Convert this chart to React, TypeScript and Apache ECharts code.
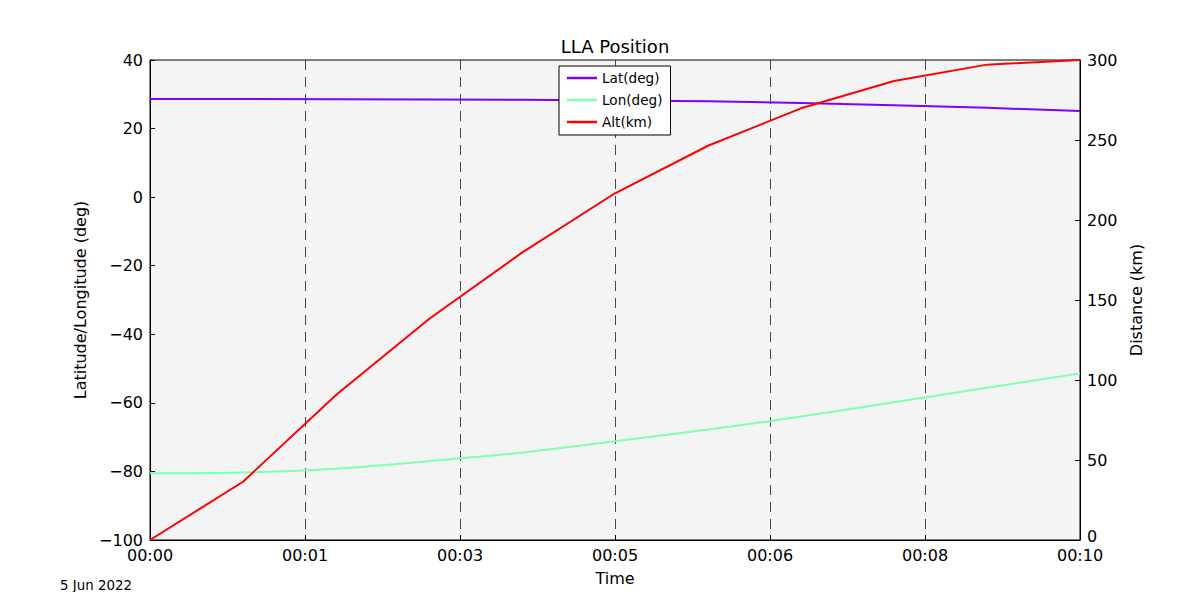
import React, { useEffect, useRef } from "react";
import * as echarts from "echarts";

const times = [0, 60, 120, 180, 240, 300, 360, 420, 480, 540, 600];
const latDeg = [28.6, 28.6, 28.55, 28.5, 28.4, 28.2, 27.95, 27.45, 26.8, 26.05, 25.1];
const lonDeg = [-80.5, -80.3, -79.2, -77.0, -74.5, -71.2, -67.8, -64.0, -59.8, -55.6, -51.4];
const altKm = [0, 36.4, 90.6, 138.1, 179.6, 216.7, 246.4, 269.8, 286.9, 297.1, 300];
const xTickLabels = ["00:00", "00:01", "00:03", "00:05", "00:06", "00:08", "00:10"];
const seriesNames = ["Lat(deg)", "Lon(deg)", "Alt(km)"];
const seriesColors = ["#8000ff", "#80ffb4", "#ff0000"];

const FONT = "DejaVu Sans";

export default function App() {
  const ref = useRef<HTMLDivElement>(null);
  useEffect(() => {
    if (!ref.current) return;
    const chart = echarts.init(ref.current, undefined, { renderer: "svg" });
    const pair = (vals: number[]) => times.map((t, i) => [t, vals[i]]);
    const minus = (v: number) => (v < 0 ? "\u2212" + Math.abs(v) : String(v));
    chart.setOption({
      animation: false,
      backgroundColor: "#ffffff",
      textStyle: { fontFamily: FONT, color: "#000" },
      title: [
        {
          text: "LLA Position",
          left: 615,
          top: 37,
          padding: 0,
          textAlign: "center",
          textStyle: { fontFamily: FONT, fontSize: 18, fontWeight: "normal", color: "#000" },
        },
        {
          text: "5 Jun 2022",
          left: 60,
          top: 579,
          padding: 0,
          textStyle: { fontFamily: FONT, fontSize: 13.4, fontWeight: "normal", color: "#000" },
        },
      ],
      legend: {
        orient: "vertical",
        left: 559,
        top: 66,
        padding: [5, 8, 6, 8],
        itemWidth: 30,
        itemHeight: 2.5,
        itemGap: 8,
        icon: "rect",
        borderColor: "#000",
        borderWidth: 1,
        borderRadius: 0,
        backgroundColor: "#fff",
        data: seriesNames,
        textStyle: { fontFamily: FONT, fontSize: 13.6, color: "#000" },
      },
      grid: {
        left: 150,
        right: 120,
        top: 60,
        bottom: 60,
        show: true,
        backgroundColor: "#f4f4f4",
        borderColor: "#000",
        borderWidth: 1,
      },
      xAxis: {
        type: "value",
        min: 0,
        max: 600,
        interval: 100,
        name: "Time",
        nameLocation: "middle",
        nameGap: 30,
        nameTextStyle: { fontFamily: FONT, fontSize: 16, color: "#000" },
        axisLine: { show: true, onZero: false, lineStyle: { color: "#000", width: 1 } },
        axisTick: { show: true, inside: true, length: 5, lineStyle: { color: "#000" } },
        axisLabel: {
          margin: 9,
          lineHeight: 13,
          fontFamily: FONT,
          fontSize: 16,
          color: "#000",
          formatter: (v: number) => xTickLabels[Math.round(v / 100)] ?? "",
        },
        splitLine: {
          show: true,
          lineStyle: { color: "#333", width: 0.9, type: [10, 7] },
        },
      },
      yAxis: [
        {
          type: "value",
          min: -100,
          max: 40,
          interval: 20,
          name: "Latitude/Longitude (deg)",
          nameLocation: "middle",
          nameGap: 60,
          nameTextStyle: { fontFamily: FONT, fontSize: 16, color: "#000" },
          axisLine: { show: true, onZero: false, lineStyle: { color: "#000", width: 1 } },
          axisTick: { show: true, inside: true, length: 5, lineStyle: { color: "#000" } },
          axisLabel: {
            margin: 7,
            lineHeight: 13,
            padding: [0, 0, 2, 0],
            fontFamily: FONT,
            fontSize: 16,
            color: "#000",
            formatter: minus,
          },
          splitLine: { show: false },
        },
        {
          type: "value",
          position: "right",
          min: 0,
          max: 300,
          interval: 50,
          name: "Distance (km)",
          nameLocation: "middle",
          nameGap: 40,
          nameTextStyle: { fontFamily: FONT, fontSize: 16, color: "#000" },
          axisLine: { show: true, onZero: false, lineStyle: { color: "#000", width: 1 } },
          axisTick: { show: true, inside: true, length: 5, lineStyle: { color: "#000" } },
          axisLabel: {
            margin: 7,
            lineHeight: 13,
            fontFamily: FONT,
            fontSize: 16,
            color: "#000",
            formatter: (v: number) => (v === 0 ? "{lo|0}" : String(v)),
            rich: {
              lo: {
                fontFamily: FONT,
                fontSize: 16,
                lineHeight: 13,
                color: "#000",
                padding: [0, 0, 7, 0],
              },
            },
          },
          splitLine: { show: false },
        },
      ],
      series: [
        {
          name: seriesNames[0],
          type: "line",
          yAxisIndex: 0,
          data: pair(latDeg),
          showSymbol: false,
          symbol: "none",
          color: seriesColors[0],
          lineStyle: { color: seriesColors[0], width: 2 },
        },
        {
          name: seriesNames[1],
          type: "line",
          yAxisIndex: 0,
          data: pair(lonDeg),
          showSymbol: false,
          symbol: "none",
          smooth: 0.3,
          color: seriesColors[1],
          lineStyle: { color: seriesColors[1], width: 2 },
        },
        {
          name: seriesNames[2],
          type: "line",
          yAxisIndex: 1,
          data: pair(altKm),
          showSymbol: false,
          symbol: "none",
          color: seriesColors[2],
          lineStyle: { color: seriesColors[2], width: 2 },
        },
      ],
    });
    return () => chart.dispose();
  }, []);
  return <div ref={ref} style={{ width: 1200, height: 600, margin: -8 }} />;
}
